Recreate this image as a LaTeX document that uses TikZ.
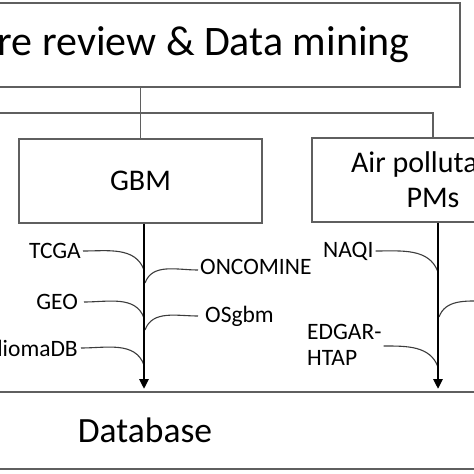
\documentclass[tikz,border=0pt]{standalone}
\usepackage{fontspec}
\setmainfont{Carlito}
\usetikzlibrary{arrows.meta}

\definecolor{boxgray}{RGB}{95,95,95}
\definecolor{curvegray}{RGB}{60,60,60}

\begin{document}
\begin{tikzpicture}[x=1pt, y=1pt,
    box/.style={draw=boxgray, line width=1.3pt, rectangle, inner sep=0pt, align=center},
    src/.style={inner sep=2pt, font=\fontsize{23.5}{26}\selectfont, align=left},
    link/.style={draw=boxgray, line width=1.3pt},
    feed/.style={draw=curvegray, line width=1.1pt},
    flow/.style={line width=2.6pt, -{Triangle[length=10pt,width=9pt]}}]
    \clip (0,0) rectangle (474,-474);

    % boxes
    \node[box, minimum width=644pt, minimum height=84pt, font=\fontsize{42}{50}\selectfont] (lit) at (138,-45) {Literature review \& Data mining};
    \node[box, minimum width=243pt, minimum height=84pt, font=\fontsize{30}{35}\selectfont] (gbm) at (140.5,-181) {GBM};
    \node[box, minimum width=242pt, minimum height=84pt, font=\fontsize{30}{35}\selectfont] (air) at (433,-180) {Air pollutants\\PMs};
    \node[box, minimum width=700pt, minimum height=77pt, font=\fontsize{35.5}{40}\selectfont] (db) at (145,-430.5) {Database};

    % sources
    \node[src, anchor=east] (tcga) at (83,-251) {TCGA};
    \node[src, anchor=east] (geo) at (80,-302) {GEO};
    \node[src, anchor=east] (glioma) at (80,-348) {GliomaDB};
    \node[src, anchor=west] (oncomine) at (198,-267) {ONCOMINE};
    \node[src, anchor=west] (osgbm) at (203,-316) {OSgbm};
    \node[src, anchor=west] (naqi) at (321,-251) {NAQI};
    \node[src, anchor=west] (edgar) at (305,-345) {EDGAR-\\HTAP};

    \coordinate (bus) at (-20,-113);
    \coordinate (offright) at (484,-301);
    \coordinate (gbmend) at (144,-389);
    \coordinate (airend) at (438,-389);
    \coordinate (j1) at (144,-270);
    \coordinate (j2) at (144,-318);
    \coordinate (j3) at (144,-365);
    \coordinate (j4) at (145,-283);
    \coordinate (j5) at (145,-330);
    \coordinate (j6) at (438,-272);
    \coordinate (j7) at (438,-367);
    \coordinate (j8) at (439,-317);

    \draw[link] (lit.south -| gbm.north) -- (gbm.north);
    \draw[link] (bus) -- (bus -| air.north) -- (air.north);

    \draw[feed] (tcga.east) to[out=0, in=110] (j1);
    \draw[feed] ([xshift=4pt]geo.east) to[out=0, in=110] (j2);
    \draw[feed] ([xshift=1pt]glioma.east) to[out=0, in=110] (j3);
    \draw[feed] ([yshift=-3pt]oncomine.west) to[out=180, in=70] (j4);
    \draw[feed] ([xshift=-5pt]osgbm.west) to[out=180, in=70] (j5);
    \draw[feed] (naqi.east) to[out=0, in=110] (j6);
    \draw[feed] ([yshift=-1pt]edgar.east) to[out=0, in=110] (j7);
    \draw[feed] (offright) to[out=180, in=70] (j8);

    \draw[flow] ([xshift=3.5pt]gbm.south) -- (gbmend);
    \draw[flow] ([xshift=5pt]air.south) -- (airend);
  \end{tikzpicture}
\end{document}
